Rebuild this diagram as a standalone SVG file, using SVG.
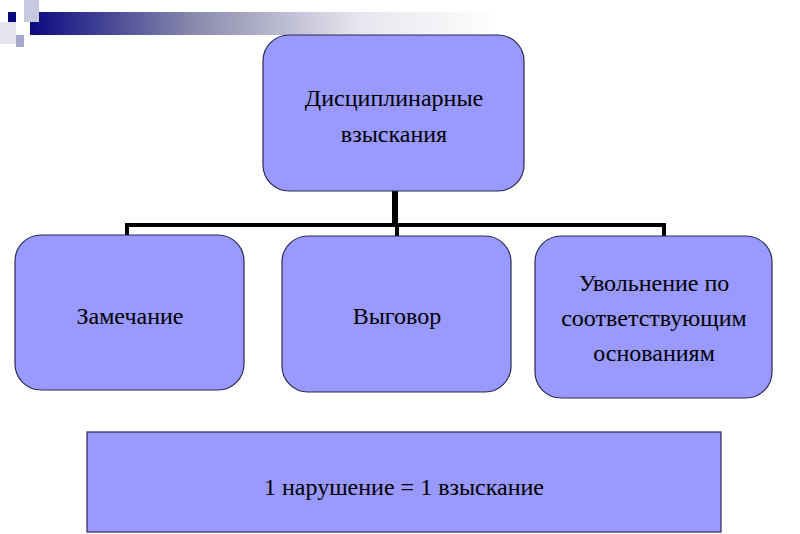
<svg xmlns="http://www.w3.org/2000/svg" width="800" height="534" viewBox="0 0 800 534">
<defs>
<linearGradient id="bar" x1="0" x2="1" y1="0" y2="0">
<stop offset="0" stop-color="#0a0a80"/><stop offset="0.35" stop-color="#8a8aae"/><stop offset="0.7" stop-color="#e6e6ee"/><stop offset="1" stop-color="#ffffff"/>
</linearGradient>
<style>
.n{fill:#9999ff;stroke:#2a2a50;stroke-width:1.2}
.t{font-family:"Liberation Serif",serif;font-size:24px;fill:#000;text-anchor:middle}
.c{stroke:#000;fill:none}
</style>
</defs>
<rect width="800" height="534" fill="#fff"/>
<g id="decor">
<rect x="30" y="12" width="470" height="23" fill="url(#bar)"/>
<rect x="8" y="12" width="8" height="10" fill="#0a0a80"/>
<rect x="24" y="0" width="15" height="22" fill="#c8c8e0"/>
<rect x="0" y="22" width="16" height="22" fill="#e4e4ee"/>
<rect x="16" y="35" width="8" height="12" fill="#a8a8cc"/>
</g>
<g id="connectors">
<path class="c" d="M395 191V226" stroke-width="6"/>
<path class="c" d="M127 236V225H664V236" stroke-width="4"/>
<path class="c" d="M397 225V237" stroke-width="4"/>
</g>
<g id="root"><rect class="n" x="263" y="35" width="261" height="156" rx="26"/>
<text class="t" x="394" y="106">Дисциплинарные</text><text class="t" x="394" y="142">взыскания</text></g>
<g id="n1"><rect class="n" x="15" y="235" width="229" height="155" rx="26"/>
<text class="t" x="130" y="324">Замечание</text></g>
<g id="n2"><rect class="n" x="282" y="236" width="229" height="156" rx="26"/>
<text class="t" x="397" y="324">Выговор</text></g>
<g id="n3"><rect class="n" x="535" y="236" width="237" height="162" rx="26"/>
<text class="t" x="654" y="291">Увольнение по</text><text class="t" x="654" y="326">соответствующим</text><text class="t" x="654" y="361">основаниям</text></g>
<g id="rule"><rect x="87" y="432" width="634" height="100" fill="#9999ff" stroke="#2a2a50" stroke-width="1.2"/>
<text class="t" x="404" y="495" font-size="30">1 нарушение = 1 взыскание</text></g>
</svg>
